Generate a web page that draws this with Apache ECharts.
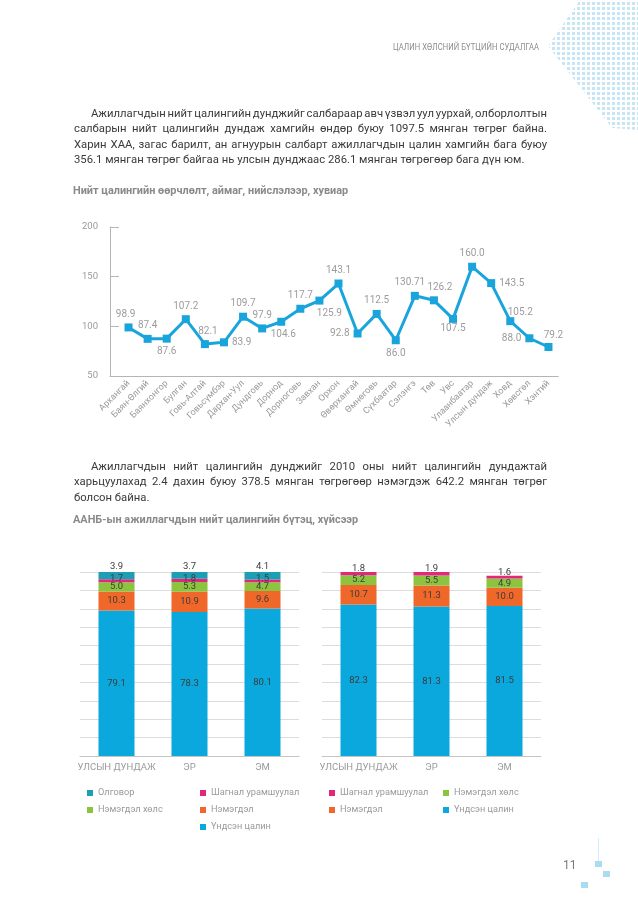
<!DOCTYPE html>
<html><head><meta charset="utf-8">
<script src="https://cdn.jsdelivr.net/npm/echarts@6/dist/echarts.min.js"></script>
<style>
html,body{margin:0;padding:0;background:#fff;}
#page{position:relative;width:638px;height:906px;overflow:hidden;font-family:Roboto,'Noto Sans',sans-serif;}
#chart{position:absolute;left:0;top:0;width:638px;height:906px;}
.dots{position:absolute;left:540px;top:0;width:98px;height:135px;background-color:#c6e6f5;
 background-image:linear-gradient(90deg,#fff 2px,transparent 2px),linear-gradient(180deg,#fff 2px,transparent 2px);
 background-size:5px 5px;clip-path:polygon(40px 0,98px 0,98px 130px,72px 128px,8px 46px);}
.header{position:absolute;left:393px;top:41px;font-size:9.5px;color:#8c8c8c;transform:scaleX(0.8);transform-origin:0 0;white-space:nowrap;letter-spacing:0.1px;}
.para{position:absolute;left:74px;width:473px;font-size:11.3px;line-height:15.4px;color:#3a3a3a;}
.para .j{display:flex;justify-content:space-between;white-space:nowrap;}
.para .last{white-space:nowrap;}
.para .ind{padding-left:17px;}
.pnum{position:absolute;left:563px;top:858px;font-size:12px;color:#7a7a7a;}
.sq{position:absolute;width:7px;height:6px;background:#a9dcf2;}
.vline{position:absolute;left:598px;top:838px;width:1px;height:23px;background:#d6eef9;}
</style></head>
<body><div id="page">
<div id="chart"></div>
<div class="dots"></div>
<div class="header">ЦАЛИН ХӨЛСНИЙ БҮТЦИЙН СУДАЛГАА</div>
<div class="para" style="top:106px">
<div class="j ind">Ажиллагчдын нийт цалингийн дунджийг салбараар авч үзвэл уул уурхай, олборлолтын</div>
<div class="j">салбарын нийт цалингийн дундаж хамгийн өндөр буюу 1097.5 мянган төгрөг байна.</div>
<div class="j">Харин ХАА, загас барилт, ан агнуурын салбарт ажиллагчдын цалин хамгийн бага буюу</div>
<div class="last">356.1 мянган төгрөг байгаа нь улсын дунджаас 286.1 мянган төгрөгөөр бага дүн юм.</div>
</div>
<div class="para" style="top:459px">
<div class="j ind">Ажиллагчдын нийт цалингийн дунджийг 2010 оны нийт цалингийн дундажтай</div>
<div class="j">харьцуулахад 2.4 дахин буюу 378.5 мянган төгрөгөөр нэмэгдэж 642.2 мянган төгрөг</div>
<div class="last">болсон байна.</div>
</div>
<div class="vline"></div>
<div class="sq" style="left:595px;top:861px"></div>
<div class="sq" style="left:603px;top:871px"></div>
<div class="sq" style="left:581px;top:882px"></div>
<div class="pnum">11</div>
</div>
<script>
// justify paragraph lines word by word
document.querySelectorAll('.para .j').forEach(el=>{
  const words = el.textContent.trim().split(/\s+/);
  el.textContent = '';
  words.forEach(w=>{const s=document.createElement('span'); s.textContent=w; el.appendChild(s);});
});

const provinces = ['Архангай','Баян-Өлгий','Баянхонгор','Булган','Говь-Алтай','Говьсүмбэр','Дархан-Уул','Дундговь','Дорнод','Дорноговь','Завхан','Орхон','Өвөрхангай','Өмнөговь','Сүхбаатар','Сэлэнгэ','Төв','Увс','Улаанбаатар','Улсын дундаж','Ховд','Хөвсгөл','Хэнтий'];
const wageChange = [98.9,87.4,87.6,107.2,82.1,83.9,109.7,97.9,104.6,117.7,125.9,143.1,92.8,112.5,86.0,130.71,126.2,107.5,160.0,143.5,105.2,88.0,79.2];
const groups = ['УЛСЫН ДУНДАЖ','ЭР','ЭМ'];
const leftBase = [79.1,78.3,80.1];
const leftAdd = [10.3,10.9,9.6];
const leftAddPay = [5.0,5.3,4.7];
const leftBonus = [1.7,1.8,1.5];
const leftAllow = [3.9,3.7,4.1];
const rightBase = [82.3,81.3,81.5];
const rightAdd = [10.7,11.3,10.0];
const rightAddPay = [5.2,5.5,4.9];
const rightBonus = [1.8,1.9,1.6];

// label placement for the line chart (style, separate from data)
const labelPlace = [['top',[-3,0]],['top',[0,0]],['bottom',[0,0]],['top',[0,0]],['top',[3,0]],['right',[0,0]],['top',[0,0]],['top',[0,0]],['bottom',[2,0]],['top',[0,0]],['bottom',[10,0]],['top',[0,0]],['left',[0,0]],['top',[0,0]],['bottom',[0,0]],['top',[-5,0]],['top',[6,0]],['bottom',[0,-3]],['top',[0,0]],['right',[0,0]],['top',[10,4]],['left',[0,0]],['top',[5,2]]];

const C = {base:'#0aa8dc', add:'#f0672a', addPay:'#8cc43f', bonus:'#e2277c', allow:'#1c9fb3', line:'#1aa4dc'};
const FONT = 'Roboto, "Noto Sans", sans-serif';
const fmt1 = v => (Math.abs(v*10 - Math.round(v*10)) < 1e-9 ? v.toFixed(1) : String(v));

const chart = echarts.init(document.getElementById('chart'), null, {renderer:'canvas'});

function barSeries(name, data, color, stack, xi, labelCfg){
  return {type:'bar', name, data, stack, xAxisIndex:xi, yAxisIndex:xi, barWidth:36,
    itemStyle:{color}, emphasis:{disabled:true},
    label:Object.assign({show:true, position:'inside', color:'#3c3c3c', fontSize:9.5, fontFamily:FONT,
      formatter:p=>p.value.toFixed(1)}, labelCfg||{})};
}
const legendBase = {orient:'vertical', itemWidth:6, itemHeight:6, itemGap:5, icon:'rect', selectedMode:false,
  textStyle:{fontSize:9.2, color:'#9a9a9a', lineHeight:12}};

const option = {
  animation:false,
  textStyle:{fontFamily:FONT},
  title:[
    {text:'Нийт цалингийн өөрчлөлт, аймаг, нийслэлээр, хувиар', left:73, top:186, padding:0,
     textStyle:{fontSize:10.9, fontWeight:'bold', color:'#8a8a8a', fontFamily:FONT}},
    {text:'ААНБ-ын ажиллагчдын нийт цалингийн бүтэц, хүйсээр', left:73, top:515, padding:0,
     textStyle:{fontSize:10.9, fontWeight:'bold', color:'#8a8a8a', fontFamily:FONT}}
  ],
  grid:[
    {left:119, top:227, width:439, height:149},
    {left:110, top:227, width:448, height:149},
    {left:80, top:572, width:219, height:184},
    {left:322, top:572, width:219, height:184}
  ],
  xAxis:[
    {type:'category', gridIndex:0, data:provinces, boundaryGap:true,
     axisLine:{lineStyle:{color:'#b5b5b5'}},
     axisTick:{inside:true, length:4, lineStyle:{color:'#b5b5b5'}},
     axisLabel:{rotate:45, fontSize:9, color:'#9a9a9a', margin:6, interval:0}},
    {type:'value', gridIndex:1, min:0, max:1, axisLine:{show:true, lineStyle:{color:'#b5b5b5'}},
     axisTick:{show:false}, axisLabel:{show:false}, splitLine:{show:false}},
    {type:'category', gridIndex:2, data:groups, axisLine:{lineStyle:{color:'#c4c4c4'}},
     axisTick:{show:false}, axisLabel:{fontSize:9.5, color:'#9a9a9a', margin:7, interval:0}},
    {type:'category', gridIndex:3, data:groups, axisLine:{lineStyle:{color:'#c4c4c4'}},
     axisTick:{show:false}, axisLabel:{fontSize:9.5, color:'#9a9a9a', margin:7, interval:0}}
  ],
  yAxis:[
    {type:'value', gridIndex:0, min:50, max:200, interval:50, offset:9,
     axisLine:{show:true, lineStyle:{color:'#b5b5b5'}},
     axisTick:{show:true, inside:true, length:9, lineStyle:{color:'#b5b5b5'}},
     axisLabel:{fontSize:9.5, color:'#9a9a9a', margin:12}, splitLine:{show:false}},
    {type:'value', gridIndex:1, show:false},
    {type:'value', gridIndex:2, min:0, max:100, interval:10, axisLabel:{show:false},
     axisLine:{show:false}, axisTick:{show:false}, splitLine:{lineStyle:{color:'#dcdcdc'}}},
    {type:'value', gridIndex:3, min:0, max:100, interval:10, axisLabel:{show:false},
     axisLine:{show:false}, axisTick:{show:false}, splitLine:{lineStyle:{color:'#dcdcdc'}}}
  ],
  legend:[
    Object.assign({data:['Олговор','Нэмэгдэл хөлс'], left:82, top:782}, legendBase),
    Object.assign({data:['Шагнал урамшуулал','Нэмэгдэл','Үндсэн цалин'], left:195, top:782}, legendBase),
    Object.assign({data:['Шагнал урамшуулал','Нэмэгдэл'], left:324, top:782}, legendBase),
    Object.assign({data:['Нэмэгдэл хөлс','Үндсэн цалин'], left:438, top:782}, legendBase)
  ],
  series:[
    {type:'line', name:'Нийт цалингийн өөрчлөлт', xAxisIndex:0, yAxisIndex:0,
     data:wageChange.map((v,i)=>({value:v, label:{position:labelPlace[i][0], offset:labelPlace[i][1]}})),
     symbol:'rect', symbolSize:8, lineStyle:{color:C.line, width:3}, itemStyle:{color:C.line},
     emphasis:{disabled:true},
     label:{show:true, fontSize:10, color:'#9c9c9c', distance:4, formatter:p=>fmt1(p.value)}},
    barSeries('Үндсэн цалин', leftBase, C.base, 'L', 2),
    barSeries('Нэмэгдэл', leftAdd, C.add, 'L', 2),
    barSeries('Нэмэгдэл хөлс', leftAddPay, C.addPay, 'L', 2),
    barSeries('Шагнал урамшуулал', leftBonus, C.bonus, 'L', 2, {offset:[0,-2]}),
    barSeries('Олговор', leftAllow, C.allow, 'L', 2, {position:'top', distance:0}),
    barSeries('Үндсэн цалин', rightBase, C.base, 'R', 3),
    barSeries('Нэмэгдэл', rightAdd, C.add, 'R', 3),
    barSeries('Нэмэгдэл хөлс', rightAddPay, C.addPay, 'R', 3),
    barSeries('Шагнал урамшуулал', rightBonus, C.bonus, 'R', 3, {offset:[0,-5]})
  ]
};
chart.setOption(option);
</script>
</body></html>
